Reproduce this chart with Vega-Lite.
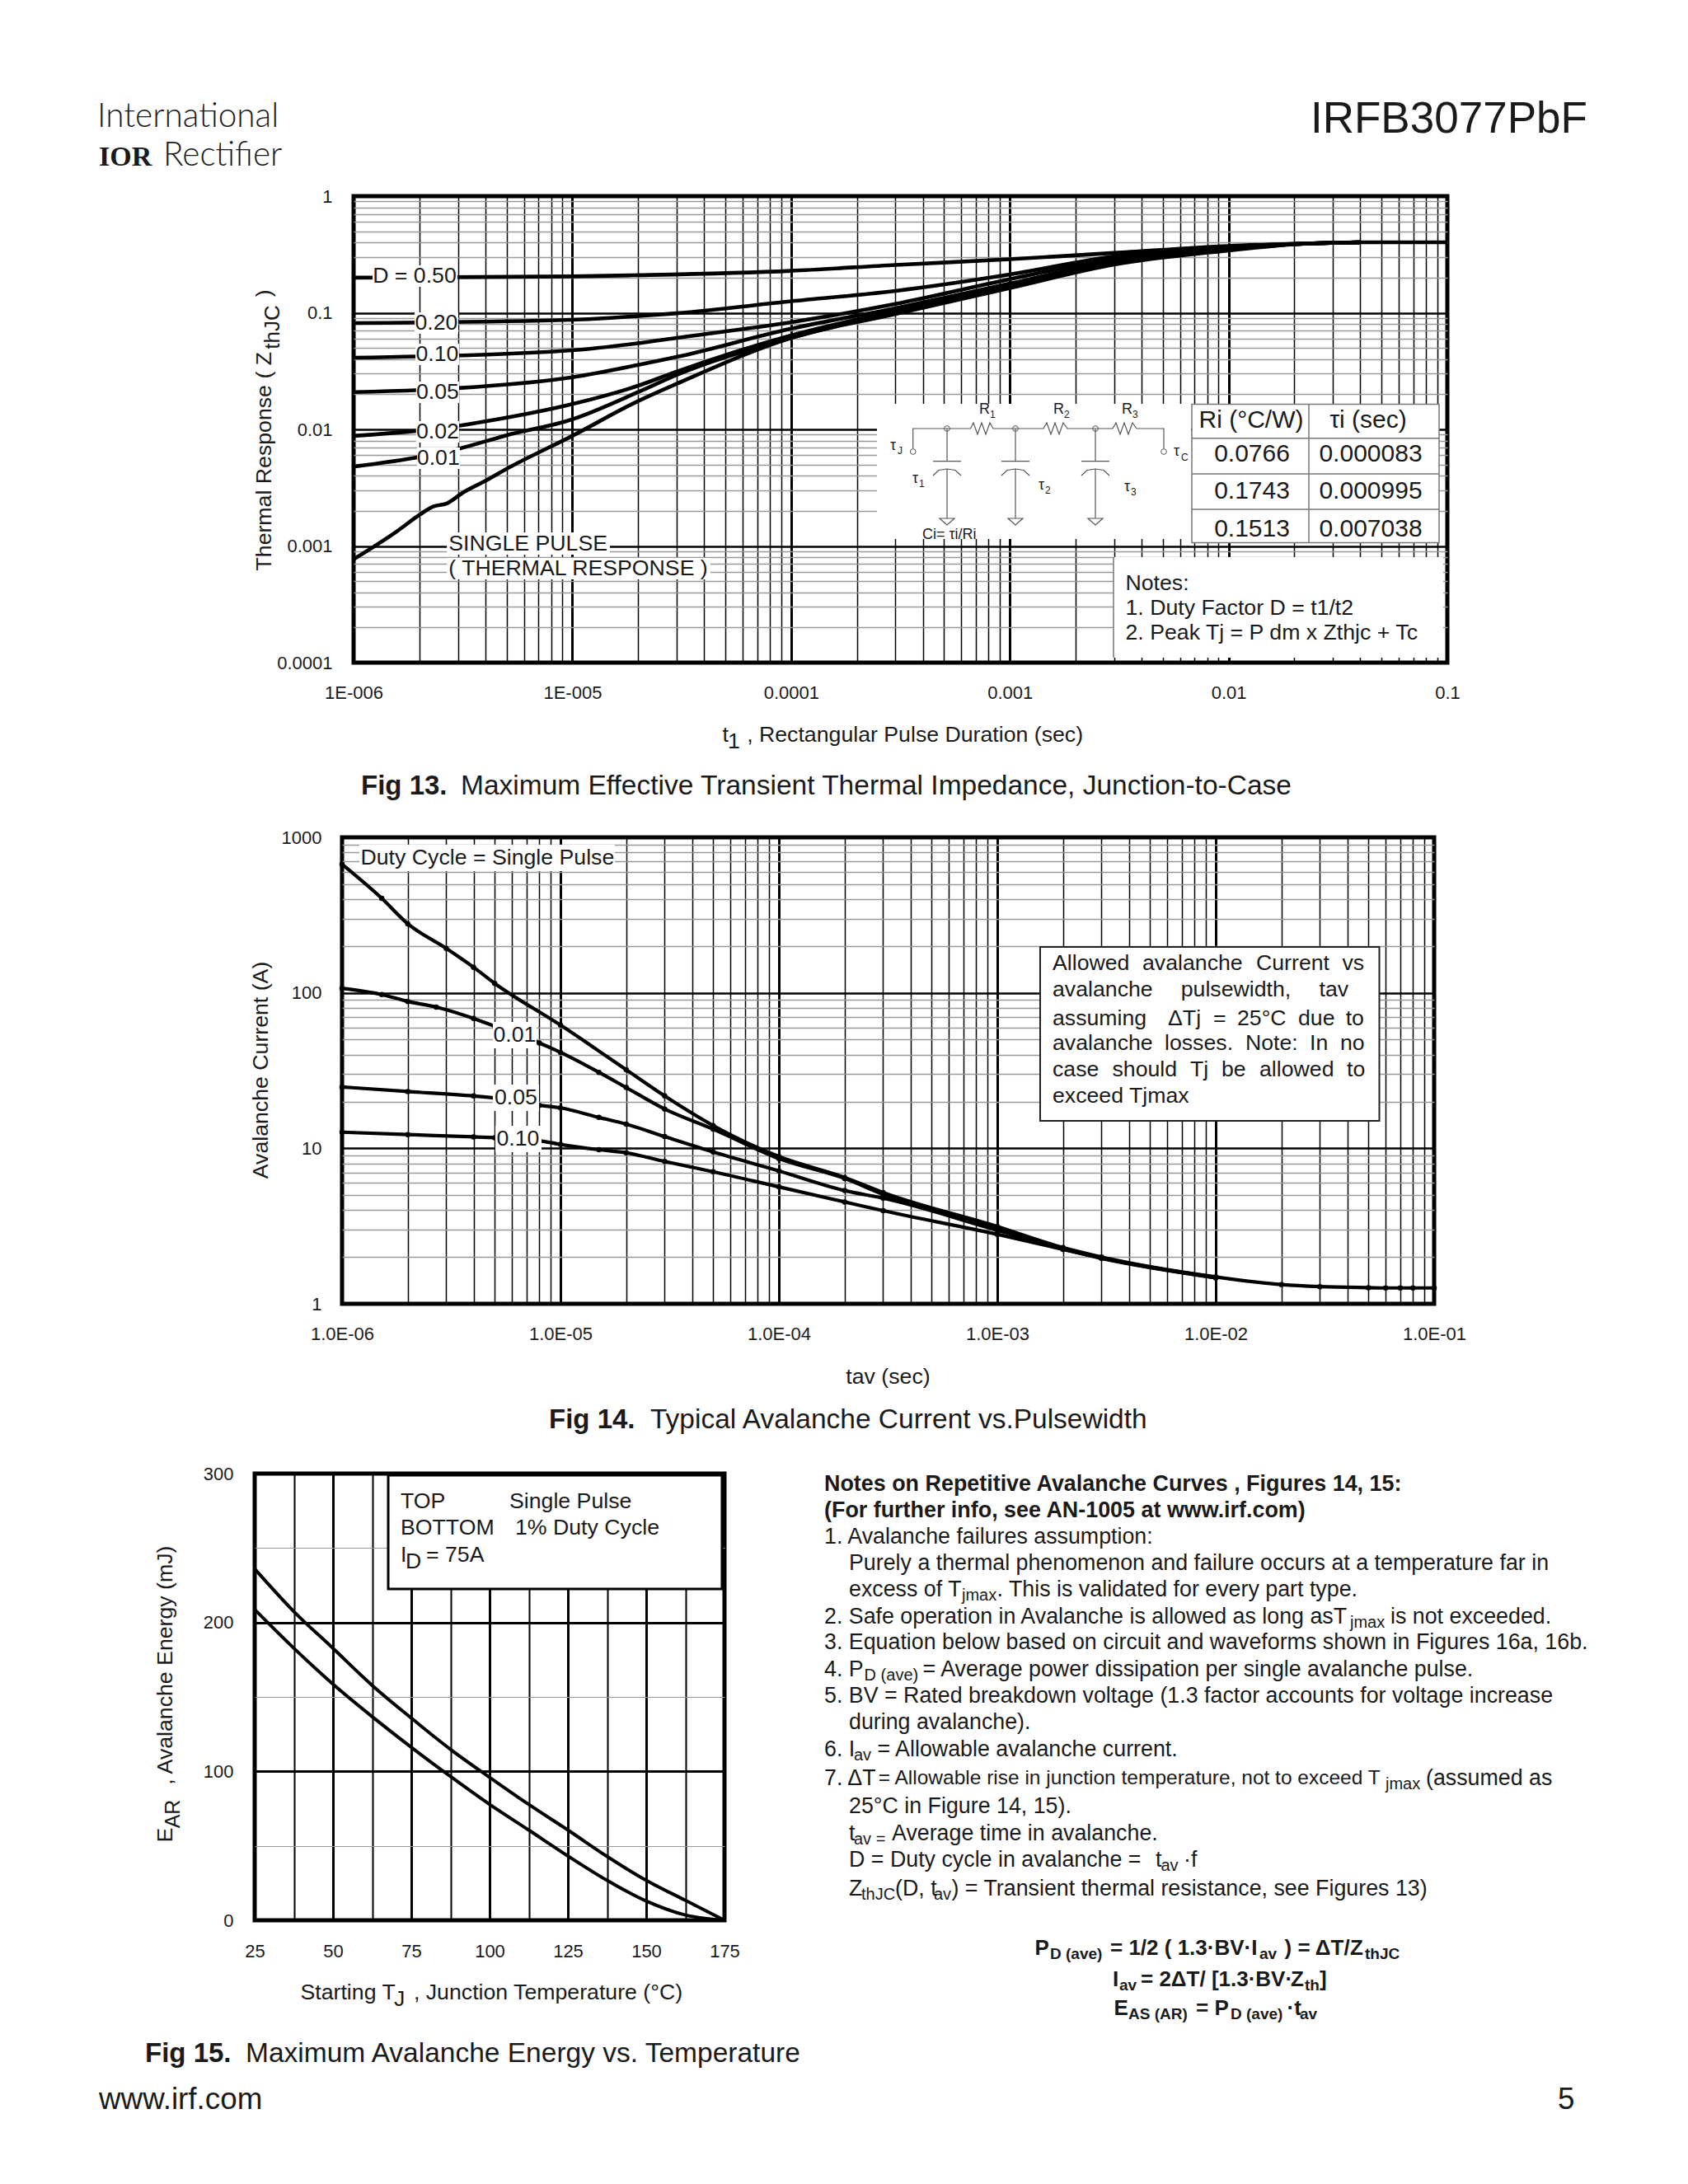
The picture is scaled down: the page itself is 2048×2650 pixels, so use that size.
{"$schema":"https://vega.github.io/schema/vega-lite/v6.json","padding":0,"background":"white","bounds":"flush","spacing":0,
"config":{"view":{"stroke":null},"text":{"font":"Liberation Sans","color":"#1a1a1a"},"axis":{"labelFont":"Liberation Sans","labelFontSize":22,"labelColor":"#1a1a1a","titleFont":"Liberation Sans","titleFontSize":26.7,"titleFontWeight":"normal","titleColor":"#1a1a1a","ticks":false,"tickSize":0,"domain":false,"grid":true,"labelOverlap":false,"labelBound":false,"labelFlush":false}},
"vconcat":[
{"bounds":"flush","spacing":0,"vconcat":[
{"width":10,"height":238,"data":{"values":[]},"mark":"point"},
{"bounds":"flush","spacing":0,"hconcat":[
{"width":429,"height":566,"data":{"values":[]},"mark":"point"},
{"width":1327,"height":566,"view":{"stroke":"#000","strokeWidth":5},
"encoding":{"x":{"field":"t","type":"quantitative","scale":{"type":"log","domain":[1e-6,0.1]},"axis":{"title":"t\u00a0\u00a0 , Rectangular Pulse Duration (sec)","titleAlign":"left","titleBaseline":"middle","titleX":447,"titleY":87,"labelPadding":26,"values":[1e-6,2e-6,3e-6,4e-6,5e-6,6e-6,7e-6,8e-6,9e-6,1e-5,2e-5,3e-5,4e-5,5e-5,6e-5,7e-5,8e-5,9e-5,1e-4,2e-4,3e-4,4e-4,5e-4,6e-4,7e-4,8e-4,9e-4,1e-3,2e-3,3e-3,4e-3,5e-3,6e-3,7e-3,8e-3,9e-3,1e-2,2e-2,3e-2,4e-2,5e-2,6e-2,7e-2,8e-2,9e-2,1e-1],"gridColor":"#000","gridWidth":{"condition":{"test":"abs(log(datum.value)/LN10-round(log(datum.value)/LN10))<0.001","value":3},"value":1.5},"labelExpr":"abs(log(datum.value)/LN10-round(log(datum.value)/LN10))<0.001?(datum.value<5e-6?'1E-006':datum.value<5e-5?'1E-005':datum.value<5e-4?'0.0001':datum.value<5e-3?'0.001':datum.value<5e-2?'0.01':'0.1'):''"}},
"y":{"field":"z","type":"quantitative","scale":{"type":"log","domain":[0.0001,1]},"axis":{"title":"Thermal Response ( Z\u00a0\u00a0\u00a0\u00a0\u00a0\u00a0\u00a0\u00a0 )","titleAngle":270,"titleAlign":"left","titleBaseline":"middle","titleX":-109,"titleY":454,"labelPadding":26,"values":[1e-4,2e-4,3e-4,4e-4,5e-4,6e-4,7e-4,8e-4,9e-4,1e-3,2e-3,3e-3,4e-3,5e-3,6e-3,7e-3,8e-3,9e-3,1e-2,2e-2,3e-2,4e-2,5e-2,6e-2,7e-2,8e-2,9e-2,1e-1,2e-1,3e-1,4e-1,5e-1,6e-1,7e-1,8e-1,9e-1,1],"gridColor":{"condition":{"test":"abs(log(datum.value)/LN10-round(log(datum.value)/LN10))<0.001","value":"#000"},"value":"#999999"},"gridWidth":{"condition":{"test":"abs(log(datum.value)/LN10-round(log(datum.value)/LN10))<0.001","value":2.6},"value":1.5},"labelExpr":"abs(log(datum.value)/LN10-round(log(datum.value)/LN10))<0.001?format(datum.value,'.4~f'):''"}}},
"layer":[
{"data":{"values":[
{"t":1e-6,"z":0.2,"curve":"D = 0.50"},{"t":1e-5,"z":0.205,"curve":"D = 0.50"},{"t":2e-5,"z":0.21,"curve":"D = 0.50"},{"t":1e-4,"z":0.229,"curve":"D = 0.50"},{"t":3e-4,"z":0.257,"curve":"D = 0.50"},{"t":1e-3,"z":0.288,"curve":"D = 0.50"},{"t":3e-3,"z":0.326,"curve":"D = 0.50"},{"t":1e-2,"z":0.374,"curve":"D = 0.50"},{"t":2e-2,"z":0.39,"curve":"D = 0.50"},{"t":4e-2,"z":0.402,"curve":"D = 0.50"},{"t":0.1,"z":0.402,"curve":"D = 0.50"},
{"t":1e-6,"z":0.0816,"curve":"0.20"},{"t":1e-5,"z":0.087,"curve":"0.20"},{"t":2e-5,"z":0.0937,"curve":"0.20"},{"t":3e-5,"z":0.099,"curve":"0.20"},{"t":1e-4,"z":0.1256,"curve":"0.20"},{"t":3e-4,"z":0.154,"curve":"0.20"},{"t":1e-3,"z":0.213,"curve":"0.20"},{"t":3e-3,"z":0.305,"curve":"0.20"},{"t":1e-2,"z":0.365,"curve":"0.20"},{"t":2e-2,"z":0.39,"curve":"0.20"},{"t":4e-2,"z":0.402,"curve":"0.20"},
{"t":1e-6,"z":0.0412,"curve":"0.10"},{"t":1e-5,"z":0.0477,"curve":"0.10"},{"t":2e-5,"z":0.0548,"curve":"0.10"},{"t":3e-5,"z":0.0609,"curve":"0.10"},{"t":1e-4,"z":0.083,"curve":"0.10"},{"t":3e-4,"z":0.119,"curve":"0.10"},{"t":1e-3,"z":0.194,"curve":"0.10"},{"t":3e-3,"z":0.29,"curve":"0.10"},{"t":1e-2,"z":0.36,"curve":"0.10"},{"t":2e-2,"z":0.388,"curve":"0.10"},{"t":4e-2,"z":0.402,"curve":"0.10"},
{"t":1e-6,"z":0.0209,"curve":"0.05"},{"t":3e-6,"z":0.0226,"curve":"0.05"},{"t":1e-5,"z":0.028,"curve":"0.05"},{"t":2e-5,"z":0.0357,"curve":"0.05"},{"t":3e-5,"z":0.0418,"curve":"0.05"},{"t":1e-4,"z":0.073,"curve":"0.05"},{"t":3e-4,"z":0.1095,"curve":"0.05"},{"t":1e-3,"z":0.178,"curve":"0.05"},{"t":3e-3,"z":0.278,"curve":"0.05"},{"t":1e-2,"z":0.358,"curve":"0.05"},{"t":2e-2,"z":0.388,"curve":"0.05"},{"t":4e-2,"z":0.402,"curve":"0.05"},
{"t":1e-6,"z":0.0088,"curve":"0.02"},{"t":3e-6,"z":0.0107,"curve":"0.02"},{"t":4e-6,"z":0.0117,"curve":"0.02"},{"t":1e-5,"z":0.0165,"curve":"0.02"},{"t":2e-5,"z":0.0237,"curve":"0.02"},{"t":3e-5,"z":0.0313,"curve":"0.02"},{"t":1e-4,"z":0.0639,"curve":"0.02"},{"t":3e-4,"z":0.104,"curve":"0.02"},{"t":1e-3,"z":0.174,"curve":"0.02"},{"t":3e-3,"z":0.272,"curve":"0.02"},{"t":1e-2,"z":0.354,"curve":"0.02"},{"t":2e-2,"z":0.388,"curve":"0.02"},{"t":4e-2,"z":0.402,"curve":"0.02"},
{"t":1e-6,"z":0.0048,"curve":"0.01"},{"t":2e-6,"z":0.0058,"curve":"0.01"},{"t":3e-6,"z":0.0068,"curve":"0.01"},{"t":5e-6,"z":0.0089,"curve":"0.01"},{"t":1e-5,"z":0.0122,"curve":"0.01"},{"t":2e-5,"z":0.0209,"curve":"0.01"},{"t":3e-5,"z":0.0293,"curve":"0.01"},{"t":1e-4,"z":0.0609,"curve":"0.01"},{"t":3e-4,"z":0.1017,"curve":"0.01"},{"t":1e-3,"z":0.167,"curve":"0.01"},{"t":3e-3,"z":0.266,"curve":"0.01"},{"t":1e-2,"z":0.347,"curve":"0.01"},{"t":2e-2,"z":0.388,"curve":"0.01"},{"t":4e-2,"z":0.402,"curve":"0.01"},
{"t":1e-6,"z":0.00077,"curve":"single"},{"t":1.59e-6,"z":0.00135,"curve":"single"},{"t":2e-6,"z":0.00185,"curve":"single"},{"t":2.31e-6,"z":0.00218,"curve":"single"},{"t":2.67e-6,"z":0.00232,"curve":"single"},{"t":3.17e-6,"z":0.00288,"curve":"single"},{"t":4e-6,"z":0.00362,"curve":"single"},{"t":5e-6,"z":0.00458,"curve":"single"},{"t":1e-5,"z":0.0088,"curve":"single"},{"t":2e-5,"z":0.0175,"curve":"single"},{"t":3e-5,"z":0.0246,"curve":"single"},{"t":1e-4,"z":0.0609,"curve":"single"},{"t":3e-4,"z":0.0977,"curve":"single"},{"t":1e-3,"z":0.163,"curve":"single"},{"t":3e-3,"z":0.259,"curve":"single"},{"t":1e-2,"z":0.342,"curve":"single"},{"t":2e-2,"z":0.387,"curve":"single"},{"t":4e-2,"z":0.402,"curve":"single"}
]},"mark":{"type":"line","color":"#000","strokeWidth":4.6,"interpolate":"monotone"},"encoding":{"detail":{"field":"curve"}}},
{"data":{"values":[{"t":1.221e-6,"t2":2.984e-6,"z":0.2549,"z2":0.167},{"t":1.9e-6,"t2":3.01e-6,"z":0.1008,"z2":0.066},{"t":1.917e-6,"t2":3.035e-6,"z":0.0543,"z2":0.0356},{"t":1.93e-6,"t2":3.035e-6,"z":0.0257,"z2":0.01683},{"t":1.93e-6,"t2":3.035e-6,"z":0.01176,"z2":0.00771},{"t":1.95e-6,"t2":3.06e-6,"z":0.007,"z2":0.00458},{"t":2.67e-6,"t2":1.485e-5,"z":0.00131,"z2":0.000843},{"t":2.67e-6,"t2":4.28e-5,"z":0.00079,"z2":0.000517}]},"mark":{"type":"rect","fill":"#fff"},"encoding":{"x2":{"field":"t2"},"y2":{"field":"z2"}}},
{"data":{"values":[{"t":1.9e-6,"z":0.2063,"label":"D = 0.50"},{"t":2.39e-6,"z":0.0816,"label":"0.20"},{"t":2.41e-6,"z":0.044,"label":"0.10"},{"t":2.42e-6,"z":0.0208,"label":"0.05"},{"t":2.42e-6,"z":0.00952,"label":"0.02"},{"t":2.44e-6,"z":0.00566,"label":"0.01"},{"t":6.27e-6,"z":0.00105,"label":"SINGLE PULSE"},{"t":1.064e-5,"z":0.00064,"label":"( THERMAL RESPONSE )"}]},"mark":{"type":"text","fontSize":26.7,"baseline":"middle"},"encoding":{"text":{"field":"label"}}}
]}
]},
{"width":10,"height":778,"data":{"values":[]},"mark":"point"},
{"bounds":"flush","spacing":0,"hconcat":[
{"width":415,"height":566,"data":{"values":[]},"mark":"point"},
{"width":1325,"height":566,"view":{"stroke":"#000","strokeWidth":5},
"encoding":{"x":{"field":"t","type":"quantitative","scale":{"type":"log","domain":[1e-6,0.1]},"axis":{"title":"tav (sec)","titleAlign":"center","titleBaseline":"middle","titleX":662,"titleY":88,"labelPadding":26,"values":[1e-6,2e-6,3e-6,4e-6,5e-6,6e-6,7e-6,8e-6,9e-6,1e-5,2e-5,3e-5,4e-5,5e-5,6e-5,7e-5,8e-5,9e-5,1e-4,2e-4,3e-4,4e-4,5e-4,6e-4,7e-4,8e-4,9e-4,1e-3,2e-3,3e-3,4e-3,5e-3,6e-3,7e-3,8e-3,9e-3,1e-2,2e-2,3e-2,4e-2,5e-2,6e-2,7e-2,8e-2,9e-2,1e-1],"gridColor":"#000","gridWidth":{"condition":{"test":"abs(log(datum.value)/LN10-round(log(datum.value)/LN10))<0.001","value":3},"value":1.5},"labelExpr":"abs(log(datum.value)/LN10-round(log(datum.value)/LN10))<0.001?(datum.value<5e-6?'1.0E-06':datum.value<5e-5?'1.0E-05':datum.value<5e-4?'1.0E-04':datum.value<5e-3?'1.0E-03':datum.value<5e-2?'1.0E-02':'1.0E-01'):''"}},
"y":{"field":"i","type":"quantitative","scale":{"type":"log","domain":[1,1000]},"axis":{"title":"Avalanche Current (A)","titleAngle":270,"titleAlign":"center","titleBaseline":"middle","titleX":-99,"titleY":282,"labelPadding":25,"values":[1,2,3,4,5,6,7,8,9,10,20,30,40,50,60,70,80,90,100,200,300,400,500,600,700,800,900,1000],"gridColor":{"condition":{"test":"abs(log(datum.value)/LN10-round(log(datum.value)/LN10))<0.001","value":"#000"},"value":"#999999"},"gridWidth":{"condition":{"test":"abs(log(datum.value)/LN10-round(log(datum.value)/LN10))<0.001","value":2.6},"value":1.5},"labelExpr":"abs(log(datum.value)/LN10-round(log(datum.value)/LN10))<0.001?format(datum.value,'d'):''"}}},
"layer":[
{"data":{"name":"aval","values":[
{"t":1e-6,"i":671,"curve":"single"},{"t":1.52e-6,"i":405,"curve":"single"},{"t":2e-6,"i":278,"curve":"single"},{"t":3e-6,"i":193,"curve":"single"},{"t":4e-6,"i":146,"curve":"single"},{"t":5e-6,"i":115,"curve":"single"},{"t":1e-5,"i":62,"curve":"single"},{"t":2e-5,"i":32,"curve":"single"},{"t":3e-5,"i":21.7,"curve":"single"},{"t":5e-5,"i":14,"curve":"single"},{"t":1e-4,"i":8.86,"curve":"single"},{"t":2e-4,"i":6.5,"curve":"single"},{"t":3e-4,"i":5.2,"curve":"single"},{"t":1e-3,"i":3.14,"curve":"single"},{"t":2e-3,"i":2.3,"curve":"single"},{"t":3e-3,"i":2,"curve":"single"},{"t":1e-2,"i":1.49,"curve":"single"},{"t":2e-2,"i":1.33,"curve":"single"},{"t":3e-2,"i":1.29,"curve":"single"},{"t":5e-2,"i":1.27,"curve":"single"},{"t":6e-2,"i":1.265,"curve":"single"},{"t":7e-2,"i":1.265,"curve":"single"},{"t":8e-2,"i":1.265,"curve":"single"},{"t":0.1,"i":1.265,"curve":"single"},
{"t":1e-6,"i":107,"curve":"0.01"},{"t":1.52e-6,"i":97.5,"curve":"0.01"},{"t":2e-6,"i":88,"curve":"0.01"},{"t":2.7e-6,"i":81,"curve":"0.01"},{"t":4e-6,"i":68.5,"curve":"0.01"},{"t":5e-6,"i":61,"curve":"0.01"},{"t":8e-6,"i":47.6,"curve":"0.01"},{"t":1e-5,"i":41.4,"curve":"0.01"},{"t":1.5e-5,"i":30.8,"curve":"0.01"},{"t":2e-5,"i":24.6,"curve":"0.01"},{"t":3e-5,"i":17.9,"curve":"0.01"},{"t":5e-5,"i":13.3,"curve":"0.01"},{"t":1e-4,"i":8.6,"curve":"0.01"},{"t":2e-4,"i":6.4,"curve":"0.01"},{"t":3e-4,"i":5.06,"curve":"0.01"},{"t":1e-3,"i":3.05,"curve":"0.01"},{"t":2e-3,"i":2.27,"curve":"0.01"},{"t":3e-3,"i":1.98,"curve":"0.01"},{"t":1e-2,"i":1.48,"curve":"0.01"},
{"t":1e-6,"i":24.8,"curve":"0.05"},{"t":2e-6,"i":23.2,"curve":"0.05"},{"t":4e-6,"i":21.7,"curve":"0.05"},{"t":5e-6,"i":21.1,"curve":"0.05"},{"t":8e-6,"i":18.9,"curve":"0.05"},{"t":1e-5,"i":18.2,"curve":"0.05"},{"t":1.5e-5,"i":15.8,"curve":"0.05"},{"t":2e-5,"i":14.3,"curve":"0.05"},{"t":3e-5,"i":11.9,"curve":"0.05"},{"t":5e-5,"i":9.47,"curve":"0.05"},{"t":1e-4,"i":7.16,"curve":"0.05"},{"t":2e-4,"i":5.35,"curve":"0.05"},{"t":3e-4,"i":4.78,"curve":"0.05"},{"t":1e-3,"i":2.97,"curve":"0.05"},{"t":2e-3,"i":2.25,"curve":"0.05"},{"t":3e-3,"i":1.97,"curve":"0.05"},{"t":1e-2,"i":1.47,"curve":"0.05"},
{"t":1e-6,"i":12.7,"curve":"0.10"},{"t":2e-6,"i":12.25,"curve":"0.10"},{"t":4e-6,"i":11.85,"curve":"0.10"},{"t":5e-6,"i":11.7,"curve":"0.10"},{"t":8e-6,"i":11.2,"curve":"0.10"},{"t":1e-5,"i":10.6,"curve":"0.10"},{"t":1.5e-5,"i":9.8,"curve":"0.10"},{"t":2e-5,"i":9.36,"curve":"0.10"},{"t":3e-5,"i":8.23,"curve":"0.10"},{"t":5e-5,"i":7.07,"curve":"0.10"},{"t":1e-4,"i":5.65,"curve":"0.10"},{"t":2e-4,"i":4.52,"curve":"0.10"},{"t":3e-4,"i":3.97,"curve":"0.10"},{"t":1e-3,"i":2.8,"curve":"0.10"},{"t":2e-3,"i":2.24,"curve":"0.10"},{"t":3e-3,"i":1.96,"curve":"0.10"},{"t":1e-2,"i":1.47,"curve":"0.10"}
]},"mark":{"type":"line","color":"#000","strokeWidth":4.2,"interpolate":"monotone"},"encoding":{"detail":{"field":"curve"}}},
{"data":{"name":"aval"},"mark":{"type":"point","filled":true,"color":"#000","size":42,"opacity":1},"encoding":{"detail":{"field":"curve"}}},
{"data":{"values":[{"t":4.9e-6,"t2":7.77e-6,"i":65,"i2":44},{"t":4.9e-6,"t2":7.98e-6,"i":25.7,"i2":17.4},{"t":5.03e-6,"t2":8.19e-6,"i":13.97,"i2":9.45},{"t":1.2e-6,"t2":1.774e-5,"i":896,"i2":606}]},"mark":{"type":"rect","fill":"#fff"},"encoding":{"x2":{"field":"t2"},"y2":{"field":"i2"}}},
{"data":{"values":[{"t":6.17e-6,"i":53.5,"label":"0.01"},{"t":6.25e-6,"i":21.15,"label":"0.05"},{"t":6.39e-6,"i":11.49,"label":"0.10"},{"t":4.63e-6,"i":737,"label":"Duty Cycle = Single Pulse"}]},"mark":{"type":"text","fontSize":26.7,"baseline":"middle"},"encoding":{"text":{"field":"label"}}}
]}
]},
{"width":10,"height":772,"data":{"values":[]},"mark":"point"},
{"bounds":"flush","spacing":0,"hconcat":[
{"width":309,"height":542,"data":{"values":[]},"mark":"point"},
{"width":570,"height":542,"view":{"stroke":"#000","strokeWidth":5},
"data":{"values":[
{"T":25,"E":236,"curve":"top"},{"T":37.5,"E":207.4,"curve":"top"},{"T":50,"E":182.7,"curve":"top"},{"T":62.5,"E":157.8,"curve":"top"},{"T":75,"E":135.8,"curve":"top"},{"T":87.5,"E":114.8,"curve":"top"},{"T":100,"E":96,"curve":"top"},{"T":112.5,"E":77.8,"curve":"top"},{"T":125,"E":60.6,"curve":"top"},{"T":137.5,"E":42.9,"curve":"top"},{"T":150,"E":26.8,"curve":"top"},{"T":162.5,"E":13.4,"curve":"top"},{"T":175,"E":0,"curve":"top"},
{"T":25,"E":208.7,"curve":"bottom"},{"T":37.5,"E":182.7,"curve":"bottom"},{"T":50,"E":158.6,"curve":"bottom"},{"T":62.5,"E":136.8,"curve":"bottom"},{"T":75,"E":116.2,"curve":"bottom"},{"T":87.5,"E":96.6,"curve":"bottom"},{"T":100,"E":77.8,"curve":"bottom"},{"T":112.5,"E":60.6,"curve":"bottom"},{"T":125,"E":43.2,"curve":"bottom"},{"T":137.5,"E":26.8,"curve":"bottom"},{"T":150,"E":12.9,"curve":"bottom"},{"T":162.5,"E":3.5,"curve":"bottom"},{"T":175,"E":0,"curve":"bottom"}
]},
"mark":{"type":"line","color":"#000","strokeWidth":4,"interpolate":"monotone"},
"encoding":{"detail":{"field":"curve"},
"x":{"field":"T","type":"quantitative","scale":{"domain":[25,175],"nice":false,"zero":false},"axis":{"title":"Starting T\u00a0\u00a0 , Junction Temperature (°C)","titleAlign":"left","titleBaseline":"middle","titleX":55,"titleY":87,"labelPadding":27,"values":[25,37.5,50,62.5,75,87.5,100,112.5,125,137.5,150,162.5,175],"gridColor":"#000","gridWidth":{"condition":{"test":"datum.value%25==0","value":3},"value":2},"labelExpr":"datum.value%25==0?format(datum.value,'d'):''"}},
"y":{"field":"E","type":"quantitative","scale":{"domain":[0,300],"nice":false},"axis":{"title":"E\u00a0\u00a0\u00a0\u00a0\u00a0\u00a0 , Avalanche Energy (mJ)","titleAngle":270,"titleAlign":"left","titleBaseline":"middle","titleX":-109,"titleY":447,"labelPadding":26,"values":[0,50,100,150,200,250,300],"gridColor":{"condition":{"test":"datum.value%100==0","value":"#000"},"value":"#999999"},"gridWidth":{"condition":{"test":"datum.value%100==0","value":3},"value":1},"labelExpr":"datum.value%100==0?format(datum.value,'d'):''"}}}}
]}
]},
{"width":2048,"height":2650,
"encoding":{"x":{"field":"x","type":"quantitative","scale":{"domain":[0,2048],"nice":false,"zero":false},"axis":null},"y":{"field":"y","type":"quantitative","scale":{"domain":[0,2650],"reverse":true,"nice":false,"zero":false},"axis":null}},
"layer":[
{"data":{"values":[{"x":1064,"x2":1445,"y":490,"y2":654},{"x":1351,"x2":1751,"y":676,"y2":798}]},"mark":{"type":"rect","fill":"#fff"},"encoding":{"x2":{"field":"x2"},"y2":{"field":"y2"}}},
{"data":{"values":[{"x":1446,"x2":1746,"y":490.5,"y2":658.5}]},"mark":{"type":"rect","fill":"#fff","stroke":"#777","strokeWidth":1.5},"encoding":{"x2":{"field":"x2"},"y2":{"field":"y2"}}},
{"data":{"values":[{"x":1351,"x2":1351,"y":676,"y2":798},{"x":1446,"x2":1746,"y":531.7,"y2":531.7},{"x":1446,"x2":1746,"y":575,"y2":575},{"x":1446,"x2":1746,"y":618,"y2":618},{"x":1588,"x2":1588,"y":490.5,"y2":658.5}]},"mark":{"type":"rule","color":"#777","strokeWidth":1.5},"encoding":{"x2":{"field":"x2"},"y2":{"field":"y2"}}},
{"data":{"values":[{"x":1262,"x2":1673.5,"y":1149,"y2":1360}]},"mark":{"type":"rect","fill":"#fff","stroke":"#222","strokeWidth":2},"encoding":{"x2":{"field":"x2"},"y2":{"field":"y2"}}},
{"data":{"values":[{"x":471,"x2":876,"y":1790,"y2":1928}]},"mark":{"type":"rect","fill":"#fff","stroke":"#000","strokeWidth":3},"encoding":{"x2":{"field":"x2"},"y2":{"field":"y2"}}},
{"data":{"values":[
{"g":"w","i":0,"x":1107.7,"y":544},{"g":"w","i":1,"x":1107.7,"y":520},{"g":"w","i":2,"x":1177.5,"y":520},{"g":"w","i":3,"x":1181,"y":513},{"g":"w","i":4,"x":1186,"y":527},{"g":"w","i":5,"x":1191,"y":513},{"g":"w","i":6,"x":1196,"y":527},{"g":"w","i":7,"x":1201,"y":513},{"g":"w","i":8,"x":1205,"y":520},{"g":"w","i":9,"x":1266,"y":520},{"g":"w","i":10,"x":1270,"y":513},{"g":"w","i":11,"x":1275,"y":527},{"g":"w","i":12,"x":1280,"y":513},{"g":"w","i":13,"x":1285,"y":527},{"g":"w","i":14,"x":1290,"y":513},{"g":"w","i":15,"x":1295,"y":520},{"g":"w","i":16,"x":1350,"y":520},{"g":"w","i":17,"x":1354,"y":513},{"g":"w","i":18,"x":1359,"y":527},{"g":"w","i":19,"x":1364,"y":513},{"g":"w","i":20,"x":1369,"y":527},{"g":"w","i":21,"x":1374,"y":513},{"g":"w","i":22,"x":1379,"y":520},{"g":"w","i":23,"x":1412,"y":520},{"g":"w","i":24,"x":1412,"y":544},
{"g":"a1","i":0,"x":1149,"y":520},{"g":"a1","i":1,"x":1149,"y":559.6},{"g":"a2","i":0,"x":1132,"y":559.6},{"g":"a2","i":1,"x":1166,"y":559.6},{"g":"a3","i":0,"x":1132,"y":577},{"g":"a3","i":1,"x":1139,"y":570.5},{"g":"a3","i":2,"x":1149,"y":569},{"g":"a3","i":3,"x":1159,"y":570.5},{"g":"a3","i":4,"x":1166,"y":577},{"g":"a4","i":0,"x":1149,"y":569},{"g":"a4","i":1,"x":1149,"y":629},{"g":"a4","i":2,"x":1140,"y":629},{"g":"a4","i":3,"x":1149,"y":637},{"g":"a4","i":4,"x":1158,"y":629},{"g":"a4","i":5,"x":1149,"y":629},
{"g":"b1","i":0,"x":1232,"y":520},{"g":"b1","i":1,"x":1232,"y":559.6},{"g":"b2","i":0,"x":1215,"y":559.6},{"g":"b2","i":1,"x":1249,"y":559.6},{"g":"b3","i":0,"x":1215,"y":577},{"g":"b3","i":1,"x":1222,"y":570.5},{"g":"b3","i":2,"x":1232,"y":569},{"g":"b3","i":3,"x":1242,"y":570.5},{"g":"b3","i":4,"x":1249,"y":577},{"g":"b4","i":0,"x":1232,"y":569},{"g":"b4","i":1,"x":1232,"y":629},{"g":"b4","i":2,"x":1223,"y":629},{"g":"b4","i":3,"x":1232,"y":637},{"g":"b4","i":4,"x":1241,"y":629},{"g":"b4","i":5,"x":1232,"y":629},
{"g":"c1","i":0,"x":1329,"y":520},{"g":"c1","i":1,"x":1329,"y":559.6},{"g":"c2","i":0,"x":1312,"y":559.6},{"g":"c2","i":1,"x":1346,"y":559.6},{"g":"c3","i":0,"x":1312,"y":577},{"g":"c3","i":1,"x":1319,"y":570.5},{"g":"c3","i":2,"x":1329,"y":569},{"g":"c3","i":3,"x":1339,"y":570.5},{"g":"c3","i":4,"x":1346,"y":577},{"g":"c4","i":0,"x":1329,"y":569},{"g":"c4","i":1,"x":1329,"y":629},{"g":"c4","i":2,"x":1320,"y":629},{"g":"c4","i":3,"x":1329,"y":637},{"g":"c4","i":4,"x":1338,"y":629},{"g":"c4","i":5,"x":1329,"y":629}
]},"mark":{"type":"line","color":"#555","strokeWidth":1.2},"encoding":{"detail":{"field":"g"},"order":{"field":"i"}}},
{"data":{"values":[{"x":1149,"y":520},{"x":1232,"y":520},{"x":1329,"y":520},{"x":1107.7,"y":548},{"x":1412,"y":548}]},"mark":{"type":"point","color":"#555","size":45,"strokeWidth":1,"opacity":1}},
{"data":{"values":[{"x":1080,"y":541,"s":"τ"},{"x":1424,"y":548,"s":"τ"},{"x":1107,"y":581,"s":"τ"},{"x":1260,"y":589,"s":"τ"},{"x":1364,"y":591,"s":"τ"},{"x":1188,"y":497,"s":"R"},{"x":1278,"y":497,"s":"R"},{"x":1361,"y":497,"s":"R"},{"x":1119,"y":649,"s":"Ci= τi/Ri"}]},"mark":{"type":"text","align":"left","baseline":"middle","fontSize":18},"encoding":{"text":{"field":"s"}}},
{"data":{"values":[{"x":1089,"y":547,"s":"J"},{"x":1433,"y":555,"s":"C"},{"x":1115,"y":587,"s":"1"},{"x":1268,"y":595,"s":"2"},{"x":1372,"y":597,"s":"3"},{"x":1201,"y":503,"s":"1"},{"x":1291,"y":503,"s":"2"},{"x":1374,"y":503,"s":"3"}]},"mark":{"type":"text","align":"left","baseline":"middle","fontSize":12},"encoding":{"text":{"field":"s"}}},
{"data":{"values":[{"x":1518,"y":510,"s":"Ri (°C/W)"},{"x":1660,"y":510,"s":"τi (sec)"},{"x":1519,"y":551,"s":"0.0766"},{"x":1663,"y":551,"s":"0.000083"},{"x":1519,"y":596,"s":"0.1743"},{"x":1663,"y":596,"s":"0.000995"},{"x":1519,"y":642,"s":"0.1513"},{"x":1663,"y":642,"s":"0.007038"}]},"mark":{"type":"text","baseline":"middle","fontSize":30},"encoding":{"text":{"field":"s"}}},
{"data":{"values":[
{"x":1365.5,"y":708,"s":"Notes:"},{"x":1365.5,"y":738,"s":"1. Duty Factor D = t1/t2"},{"x":1365.5,"y":768,"s":"2. Peak Tj = P dm x Zthjc + Tc"},
{"x":1277,"y":1169,"s":"Allowed"},{"x":1386,"y":1169,"s":"avalanche"},{"x":1524,"y":1169,"s":"Current"},{"x":1628.5,"y":1169,"s":"vs"},
{"x":1277,"y":1201,"s":"avalanche"},{"x":1432.7,"y":1201,"s":"pulsewidth,"},{"x":1600.5,"y":1201,"s":"tav"},
{"x":1277,"y":1236,"s":"assuming"},{"x":1417,"y":1236,"s":"ΔTj"},{"x":1472,"y":1236,"s":"="},{"x":1501,"y":1236,"s":"25°C"},{"x":1575,"y":1236,"s":"due"},{"x":1632.7,"y":1236,"s":"to"},
{"x":1277,"y":1265.5,"s":"avalanche"},{"x":1413,"y":1265.5,"s":"losses."},{"x":1511,"y":1265.5,"s":"Note:"},{"x":1589,"y":1265.5,"s":"In"},{"x":1626,"y":1265.5,"s":"no"},
{"x":1277,"y":1298,"s":"case"},{"x":1349.5,"y":1298,"s":"should"},{"x":1444,"y":1298,"s":"Tj"},{"x":1482,"y":1298,"s":"be"},{"x":1528,"y":1298,"s":"allowed"},{"x":1634,"y":1298,"s":"to"},
{"x":1277,"y":1330,"s":"exceed Tjmax"},
{"x":486,"y":1822,"s":"TOP"},{"x":618,"y":1822,"s":"Single Pulse"},{"x":486,"y":1853.5,"s":"BOTTOM"},{"x":625,"y":1853.5,"s":"1% Duty Cycle"},{"x":486,"y":1887,"s":"I"},{"x":492,"y":1895,"s":"D"},{"x":517,"y":1887,"s":"= 75A"},
{"x":883,"y":900,"s":"1"},{"x":478,"y":2426,"s":"J"}
]},"mark":{"type":"text","align":"left","baseline":"middle","fontSize":26.7},"encoding":{"text":{"field":"s"}}},
{"data":{"values":[
{"x":1000,"y":1865,"s":"1. Avalanche failures assumption:"},{"x":1030,"y":1897,"s":"Purely a thermal phenomenon and failure occurs at a temperature far in"},{"x":1030,"y":1929,"s":"excess of T"},{"x":1209.6,"y":1929,"s":". This is validated for every part type."},{"x":1000,"y":1962,"s":"2. Safe operation in Avalanche is allowed as long asT"},{"x":1687,"y":1962,"s":"is not exceeded."},{"x":1000,"y":1993,"s":"3. Equation below based on circuit and waveforms shown in Figures 16a, 16b."},{"x":1000,"y":2026,"s":"4. P"},{"x":1119.6,"y":2026,"s":"= Average power dissipation per single avalanche pulse."},{"x":1000,"y":2058,"s":"5. BV = Rated breakdown voltage (1.3 factor accounts for voltage increase"},{"x":1030,"y":2090,"s":"during avalanche)."},{"x":1000,"y":2123,"s":"6. I"},{"x":1064.5,"y":2123,"s":"= Allowable avalanche current."},{"x":1000,"y":2158,"s":"7. ΔT"},{"x":1730,"y":2158,"s":"(assumed as"},{"x":1030,"y":2192,"s":"25°C in Figure 14, 15)."},{"x":1030,"y":2225,"s":"t"},{"x":1082,"y":2225,"s":"Average time in avalanche."},{"x":1030,"y":2257,"s":"D = Duty cycle in avalanche ="},{"x":1402,"y":2257,"s":"t"},{"x":1436,"y":2257,"s":"·f"},{"x":1030,"y":2292,"s":"Z"},{"x":1086,"y":2292,"s":"(D, t"},{"x":1154.5,"y":2292,"s":") = Transient thermal resistance, see Figures 13)"}
]},"mark":{"type":"text","align":"left","baseline":"middle","fontSize":26.8},"encoding":{"text":{"field":"s"}}},
{"data":{"values":[{"x":1065.7,"y":2158,"s":"= Allowable rise in junction temperature, not to exceed T"}]},"mark":{"type":"text","align":"left","baseline":"middle","fontSize":24.5},"encoding":{"text":{"field":"s"}}},
{"data":{"values":[{"x":1167,"y":1936,"s":"jmax"},{"x":1638,"y":1969,"s":"jmax"},{"x":1048.6,"y":2033,"s":"D (ave)"},{"x":1036,"y":2130,"s":"av"},{"x":1681,"y":2165,"s":"jmax"},{"x":1036,"y":2232,"s":"av ="},{"x":1408.5,"y":2264,"s":"av"},{"x":1045,"y":2299,"s":"thJC"},{"x":1133,"y":2299,"s":"av"}]},"mark":{"type":"text","align":"left","baseline":"middle","fontSize":20},"encoding":{"text":{"field":"s"}}},
{"data":{"values":[{"x":1000,"y":1801,"s":"Notes on Repetitive Avalanche Curves , Figures 14, 15:"},{"x":1000,"y":1833,"s":"(For further info, see AN-1005 at www.irf.com)"}]},"mark":{"type":"text","align":"left","baseline":"middle","fontSize":26.9,"fontWeight":"bold"},"encoding":{"text":{"field":"s"}}},
{"data":{"values":[{"x":1255.5,"y":2364,"s":"P"},{"x":1347,"y":2364,"s":"= 1/2 ( 1.3·BV·I"},{"x":1558.5,"y":2364,"s":") = ΔT/"},{"x":1638,"y":2364,"s":"Z"},{"x":1350,"y":2402,"s":"I"},{"x":1384,"y":2402,"s":"= 2ΔT/ [1.3·BV·"},{"x":1566,"y":2402,"s":"Z"},{"x":1601,"y":2402,"s":"]"},{"x":1351.6,"y":2437,"s":"E"},{"x":1451,"y":2437,"s":"= P"},{"x":1561.6,"y":2437,"s":"·t"}]},"mark":{"type":"text","align":"left","baseline":"middle","fontSize":26,"fontWeight":"bold"},"encoding":{"text":{"field":"s"}}},
{"data":{"values":[{"x":1274,"y":2371,"s":"D (ave)"},{"x":1528,"y":2371,"s":"av"},{"x":1656,"y":2371,"s":"thJC"},{"x":1358,"y":2409,"s":"av"},{"x":1583,"y":2409,"s":"th"},{"x":1369,"y":2444,"s":"AS (AR)"},{"x":1493,"y":2444,"s":"D (ave)"},{"x":1577,"y":2444,"s":"av"}]},"mark":{"type":"text","align":"left","baseline":"middle","fontSize":19,"fontWeight":"bold"},"encoding":{"text":{"field":"s"}}},
{"data":{"values":[{"x":438,"y":954,"s":"Fig 13."},{"x":666,"y":1723,"s":"Fig 14."},{"x":176,"y":2492,"s":"Fig 15."}]},"mark":{"type":"text","align":"left","baseline":"middle","fontSize":33,"fontWeight":"bold"},"encoding":{"text":{"field":"s"}}},
{"data":{"values":[{"x":559,"y":954,"s":"Maximum Effective Transient Thermal Impedance, Junction-to-Case"},{"x":789,"y":1723,"s":"Typical Avalanche Current vs.Pulsewidth"},{"x":298,"y":2492,"s":"Maximum Avalanche Energy vs. Temperature"}]},"mark":{"type":"text","align":"left","baseline":"middle","fontSize":33.5},"encoding":{"text":{"field":"s"}}},
{"data":{"values":[{"x":120,"y":2548,"s":"www.irf.com"},{"x":1890,"y":2548,"s":"5"}]},"mark":{"type":"text","align":"left","baseline":"middle","fontSize":36.8},"encoding":{"text":{"field":"s"}}},
{"data":{"values":[{"x":1590,"y":145,"s":"IRFB3077PbF"}]},"mark":{"type":"text","align":"left","baseline":"middle","fontSize":53},"encoding":{"text":{"field":"s"}}},
{"data":{"values":[{"x":118,"y":142,"s":"International"},{"x":198,"y":189,"s":"Rectifier"}]},"mark":{"type":"text","align":"left","baseline":"middle","fontSize":40.5,"font":"Lato","fontWeight":300},"encoding":{"text":{"field":"s"}}},
{"data":{"values":[{"x":120,"y":191,"s":"IOR"}]},"mark":{"type":"text","align":"left","baseline":"middle","fontSize":34,"font":"Liberation Serif","fontWeight":"bold"},"encoding":{"text":{"field":"s"}}},
{"data":{"values":[{"x":331,"y":397,"s":"thJC"}]},"mark":{"type":"text","angle":270,"baseline":"middle","fontSize":26},"encoding":{"text":{"field":"s"}}},
{"data":{"values":[{"x":210,"y":2201,"s":"AR"}]},"mark":{"type":"text","angle":270,"baseline":"middle","fontSize":25},"encoding":{"text":{"field":"s"}}}
]}
]}
